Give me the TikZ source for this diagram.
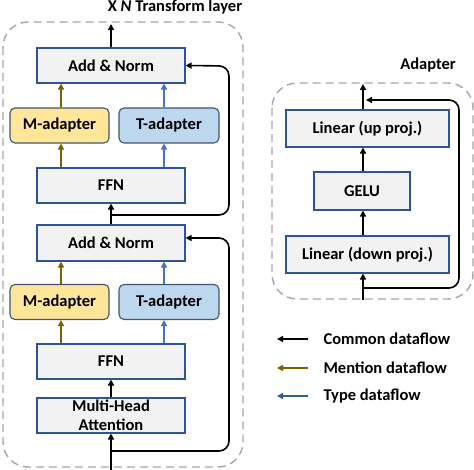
\documentclass[tikz,border=0pt]{standalone}
\usepackage{fontspec}
\setmainfont{Carlito}
\usetikzlibrary{arrows.meta}
\definecolor{boxfill}{HTML}{F2F2F2}
\definecolor{boxdraw}{HTML}{2F5597}
\definecolor{mfill}{HTML}{FFE699}
\definecolor{tfill}{HTML}{BDD7EE}
\definecolor{adraw}{HTML}{44546A}
\definecolor{brownarr}{HTML}{7F6000}
\definecolor{bluearr}{HTML}{4472C4}
\definecolor{dashgray}{HTML}{A6A6A6}
\begin{document}
\begin{tikzpicture}[x=1pt,y=-1pt,
  txt/.style={font=\fontsize{16.5}{19}\selectfont\bfseries},
  blk/.style={txt, draw=boxdraw, fill=boxfill, line width=1.1pt, minimum width=148pt, minimum height=35pt, inner sep=0pt, align=center},
  ablk/.style={txt, draw=adraw, line width=1.1pt, rounded corners=5pt, minimum width=99pt, minimum height=35pt, inner sep=0pt},
  flow/.style={line width=1.6pt, -{Triangle[length=6pt,width=6pt]}},
  mflow/.style={flow, brownarr},
  tflow/.style={flow, bluearr},
  dbox/.style={draw=dashgray, line width=1.4pt, dash pattern=on 8pt off 5pt, rounded corners=25pt},
  ]
\useasboundingbox (0,0) rectangle (474,470);
% left dashed box
\draw[dbox] (3,22) rectangle (243,467);
\node[txt] (title) at (175,7) {X \textit{N} Transform layer};
% left nodes
\node[blk] (an1) at (111,65.5) {Add \& Norm};
\node[ablk, fill=mfill] (m1) at (59.5,125.5) {M-adapter};
\node[ablk, fill=tfill, minimum width=100pt] (t1) at (169,125.5) {T-adapter};
\node[blk] (ffn1) at (111,185.5) {FFN};
\node[blk, minimum height=36pt] (an2) at (111,243) {Add \& Norm};
\node[ablk, fill=mfill] (m2) at (59.5,302) {M-adapter};
\node[ablk, fill=tfill, minimum width=100pt] (t2) at (169,302) {T-adapter};
\node[blk] (ffn2) at (111,361.5) {FFN};
\node[blk] (mha) at (111,415.5) {Multi-Head\\Attention};
\coordinate (top1) at (111,24);
\coordinate (in1) at (111,470);
\coordinate (b1) at (111,215);
\coordinate (b2) at (111,451);
% arrows
\draw[flow] (in1) -- (mha.south);
\draw[flow] (mha) -- (ffn2);
\draw[mflow] ([xshift=1.5pt]m2.south |- ffn2.north) -- ([xshift=1.5pt]m2.south);
\draw[tflow] ([xshift=-5pt]t2.south |- ffn2.north) -- ([xshift=-5pt]t2.south);
\draw[mflow] ([xshift=1.5pt]m2.north) -- ([xshift=1.5pt]m2.north |- an2.south);
\draw[tflow] ([xshift=-5pt]t2.north) -- ([xshift=-5pt]t2.north |- an2.south);
\draw[flow] (an2) -- (ffn1);
\draw[mflow] ([xshift=1.5pt]m1.south |- ffn1.north) -- ([xshift=1.5pt]m1.south);
\draw[tflow] ([xshift=-5pt]t1.south |- ffn1.north) -- ([xshift=-5pt]t1.south);
\draw[mflow] ([xshift=1.5pt]m1.north) -- ([xshift=1.5pt]m1.north |- an1.south);
\draw[tflow] ([xshift=-5pt]t1.north) -- ([xshift=-5pt]t1.north |- an1.south);
\draw[flow] (an1) -- (top1);
\draw[flow, rounded corners=10pt] (b1) -- (229,215) -- (229,66) -- (an1.east);
\draw[flow, rounded corners=10pt] (b2) -- (229,451) -- (229,238) -- (an2.east |- 0,238);
% adapter box
\draw[dbox] (272,83) rectangle (473,299);
\node[txt] (atitle) at (428,65) {Adapter};
\node[blk, minimum width=163pt, minimum height=37pt] (up) at (367.5,128.5) {Linear (up proj.)};
\node[blk, minimum width=96pt, minimum height=38pt] (gelu) at (362,191) {GELU};
\node[blk, minimum width=163pt, minimum height=37pt] (down) at (367.5,254.5) {Linear (down proj.)};
\coordinate (ain) at (363,300);
\coordinate (aout) at (363,84);
\coordinate (ab) at (363,288);
\coordinate (ar) at (366,100);
\draw[flow] (ain) -- (ain |- down.south);
\draw[flow] (ain |- down.north) -- (ain |- gelu.south);
\draw[flow] (ain |- gelu.north) -- (ain |- up.south);
\draw[flow] (ain |- up.north) -- (aout);
\draw[flow, rounded corners=10pt] (ab) -- (459,288) -- (459,100) -- (ar);
% legend
\coordinate (l1s) at (308,339); \coordinate (l1e) at (277,339);
\coordinate (l2s) at (308,368); \coordinate (l2e) at (277,368);
\coordinate (l3s) at (308,396); \coordinate (l3e) at (277,396);
\draw[flow] (l1s) -- (l1e);
\draw[mflow] (l2s) -- (l2e);
\draw[tflow, draw={rgb,255:red,46;green,95;blue,150}] (l3s) -- (l3e);
\node[txt, anchor=west] (lt1) at (320,339) {Common dataflow};
\node[txt, anchor=west] (lt2) at (320,368) {Mention dataflow};
\node[txt, anchor=west] (lt3) at (320,396) {Type dataflow};
\end{tikzpicture}
\end{document}
